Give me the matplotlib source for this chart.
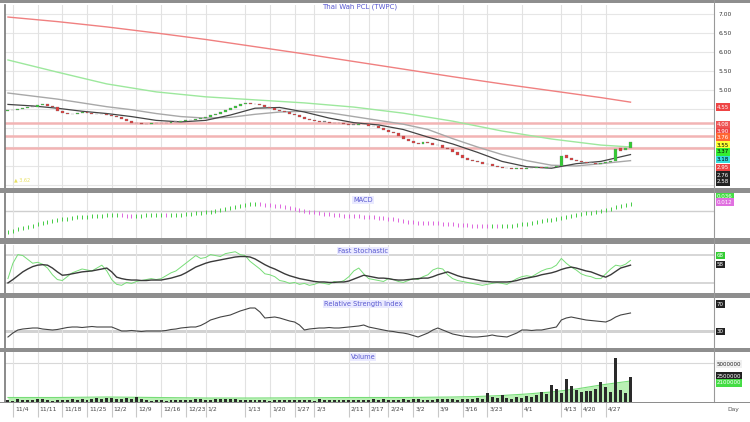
import numpy as np
import matplotlib.pyplot as plt
from matplotlib.patches import Rectangle
from matplotlib.transforms import ScaledTranslation, blended_transform_factory

title = "Thai Wah PCL (TWPC)"

# x axis: trading day index, weekly labels
tick_pos = [1, 6, 11, 16, 21, 26, 31, 36, 40, 48, 53, 58, 62, 69, 73, 77, 82, 87, 92, 97, 104, 112, 116, 121]
tick_labels = ["11/4", "11/11", "11/18", "11/25", "12/2", "12/9", "12/16", "12/23", "1/2", "1/13", "1/20",
               "1/27", "2/3", "2/11", "2/17", "2/24", "3/2", "3/9", "3/16", "3/23", "4/1", "4/13", "4/20", "4/27"]

opens = [4.44, 4.46, 4.48, 4.50, 4.52, 4.56, 4.56, 4.60, 4.62, 4.58,
         4.54, 4.44, 4.40, 4.38, 4.36, 4.40, 4.42, 4.40, 4.38, 4.36,
         4.38, 4.34, 4.32, 4.28, 4.24, 4.18, 4.14, 4.12, 4.10, 4.10,
         4.12, 4.14, 4.12, 4.14, 4.16, 4.16, 4.18, 4.20, 4.22, 4.24,
         4.26, 4.30, 4.34, 4.38, 4.42, 4.46, 4.52, 4.58, 4.62, 4.66,
         4.64, 4.62, 4.60, 4.56, 4.52, 4.48, 4.44, 4.42, 4.38, 4.34,
         4.30, 4.24, 4.20, 4.18, 4.16, 4.16, 4.14, 4.12, 4.12, 4.10,
         4.08, 4.08, 4.10, 4.10, 4.06, 4.04, 4.00, 3.94, 3.90, 3.86,
         3.80, 3.70, 3.66, 3.60, 3.58, 3.64, 3.60, 3.56, 3.54, 3.48,
         3.44, 3.38, 3.30, 3.20, 3.16, 3.12, 3.10, 3.06, 3.04, 3.00,
         2.98, 2.94, 2.94, 2.92, 2.94, 2.92, 2.94, 2.94, 2.96, 2.94,
         2.96, 2.98, 3.00, 3.30, 3.20, 3.16, 3.12, 3.10, 3.08, 3.08,
         3.06, 3.08, 3.10, 3.14, 3.48, 3.42, 3.46]
closes = [4.46, 4.48, 4.50, 4.52, 4.54, 4.56, 4.60, 4.62, 4.58, 4.54,
          4.44, 4.40, 4.38, 4.36, 4.40, 4.42, 4.40, 4.38, 4.36, 4.38,
          4.34, 4.32, 4.28, 4.24, 4.18, 4.14, 4.12, 4.10, 4.10, 4.12,
          4.14, 4.12, 4.14, 4.16, 4.16, 4.18, 4.20, 4.22, 4.24, 4.26,
          4.30, 4.34, 4.38, 4.42, 4.46, 4.52, 4.58, 4.62, 4.66, 4.64,
          4.62, 4.60, 4.56, 4.52, 4.48, 4.44, 4.42, 4.38, 4.34, 4.30,
          4.24, 4.20, 4.18, 4.16, 4.16, 4.14, 4.12, 4.12, 4.10, 4.08,
          4.08, 4.10, 4.10, 4.06, 4.04, 4.00, 3.94, 3.90, 3.86, 3.80,
          3.70, 3.66, 3.60, 3.58, 3.64, 3.60, 3.56, 3.54, 3.48, 3.44,
          3.38, 3.30, 3.20, 3.16, 3.12, 3.10, 3.06, 3.04, 3.00, 2.98,
          2.94, 2.94, 2.92, 2.94, 2.92, 2.94, 2.94, 2.96, 2.94, 2.96,
          2.98, 3.00, 3.26, 3.20, 3.16, 3.12, 3.10, 3.08, 3.08, 3.06,
          3.08, 3.10, 3.14, 3.44, 3.40, 3.46, 3.62]

# moving averages (sparse points)
ma_idx = [0, 10, 20, 30, 40, 50, 60, 70, 80, 90, 100, 110, 120, 126]
ma_red = [6.92, 6.80, 6.66, 6.50, 6.33, 6.14, 5.95, 5.75, 5.55, 5.35, 5.16, 4.98, 4.80, 4.68]
ma_green = [5.79, 5.47, 5.16, 4.95, 4.82, 4.74, 4.66, 4.55, 4.39, 4.18, 3.92, 3.71, 3.55, 3.50]
short_idx = [0, 5, 10, 15, 20, 25, 30, 35, 40, 45, 50, 55, 60, 65, 70, 75, 80, 85, 90, 95, 100, 105, 110,
             115, 120, 126]
ma_fast = [4.62, 4.58, 4.52, 4.44, 4.38, 4.30, 4.20, 4.16, 4.20, 4.34, 4.52, 4.54, 4.42, 4.26, 4.14, 4.08,
           3.96, 3.76, 3.58, 3.36, 3.12, 2.98, 2.94, 3.06, 3.12, 3.30]
ma_slow = [4.92, 4.84, 4.76, 4.66, 4.56, 4.48, 4.38, 4.30, 4.26, 4.28, 4.36, 4.42, 4.44, 4.40, 4.30, 4.20,
           4.10, 3.96, 3.72, 3.50, 3.30, 3.14, 3.02, 3.00, 3.06, 3.14]
levels = [4.13, 3.79, 3.47]

value_tags = [4.55, 4.08, 3.90, 3.76, 3.55, 3.37, 3.18, 2.95, 2.76, 2.58]
tag_colors = ['#ee4444', '#ee5555', '#ee4444', '#ff6633', '#ffff33', '#33ee33', '#33dddd', '#ee4444',
              '#222222', '#222222']

macd = [-0.105, -0.098, -0.092, -0.086, -0.080, -0.074, -0.066, -0.060, -0.054, -0.050,
        -0.046, -0.042, -0.038, -0.035, -0.032, -0.030, -0.028, -0.026, -0.025, -0.024,
        -0.022, -0.021, -0.021, -0.022, -0.023, -0.024, -0.024, -0.023, -0.022, -0.021,
        -0.020, -0.020, -0.021, -0.021, -0.020, -0.019, -0.017, -0.015, -0.012, -0.010,
        -0.007, -0.004, -0.001, 0.003, 0.008, 0.013, 0.018, 0.024, 0.029, 0.033,
        0.035, 0.034, 0.032, 0.030, 0.027, 0.024, 0.020, 0.016, 0.011, 0.006,
        0.001, -0.003, -0.007, -0.011, -0.014, -0.017, -0.019, -0.021, -0.023, -0.025,
        -0.026, -0.027, -0.028, -0.030, -0.031, -0.033, -0.036, -0.039, -0.042, -0.046,
        -0.050, -0.053, -0.056, -0.058, -0.059, -0.060, -0.061, -0.062, -0.063, -0.065,
        -0.066, -0.068, -0.070, -0.072, -0.073, -0.074, -0.075, -0.076, -0.076, -0.077,
        -0.077, -0.076, -0.074, -0.071, -0.067, -0.063, -0.059, -0.055, -0.051, -0.047,
        -0.043, -0.039, -0.033, -0.028, -0.024, -0.020, -0.016, -0.012, -0.008, -0.004,
        -0.001, 0.005, 0.011, 0.018, 0.024, 0.030, 0.036]

stoch_slow = [21, 28, 36, 44, 50, 55, 58, 59, 58, 52,
              44, 37, 38, 40, 42, 44, 45, 46, 48, 50,
              52, 44, 33, 30, 28, 27, 27, 26, 26, 27,
              27, 27, 29, 31, 34, 37, 42, 48, 54, 58,
              62, 65, 67, 69, 71, 73, 75, 76, 76, 75,
              71, 65, 59, 54, 50, 45, 40, 36, 33, 30,
              28, 26, 24, 23, 23, 22, 22, 23, 23, 25,
              29, 33, 37, 35, 33, 31, 31, 30, 28, 27,
              27, 28, 29, 30, 31, 31, 34, 38, 41, 44,
              40, 36, 33, 31, 29, 27, 25, 24, 23, 23,
              23, 23, 24, 26, 29, 31, 33, 35, 38, 40,
              42, 45, 49, 52, 54, 52, 49, 46, 44, 40,
              36, 33, 38, 45, 52, 55, 58]
stoch_fast = [30, 62, 80, 78, 70, 62, 64, 60, 52, 38,
              28, 26, 34, 42, 46, 50, 48, 46, 52, 58,
              46, 28, 18, 16, 22, 20, 24, 26, 28, 30,
              28, 30, 36, 42, 46, 54, 62, 70, 78, 72,
              74, 80, 78, 76, 82, 84, 86, 80, 78, 66,
              58, 50, 40, 38, 34, 26, 24, 20, 22, 18,
              20, 16, 18, 22, 20, 18, 24, 22, 26, 34,
              46, 52, 40, 30, 28, 26, 24, 30, 28, 24,
              22, 26, 30, 28, 34, 38, 48, 52, 50, 38,
              30, 26, 24, 22, 20, 18, 16, 18, 20, 22,
              20, 18, 24, 30, 34, 36, 34, 40, 46, 50,
              52, 58, 72, 62, 54, 48, 40, 36, 34, 30,
              30, 40, 50, 58, 56, 60, 68]

rsi = [22, 30, 36, 38, 39, 40, 40, 38, 37, 36,
       37, 39, 41, 42, 42, 41, 42, 43, 42, 42,
       42, 42, 38, 34, 34, 35, 34, 33, 34, 34,
       34, 34, 35, 37, 38, 40, 41, 42, 42, 45,
       50, 56, 59, 62, 64, 66, 70, 74, 77, 80,
       80, 72, 60, 61, 62, 60, 57, 54, 52, 46,
       36, 38, 39, 40, 40, 41, 40, 40, 41, 42,
       43, 44, 46, 42, 40, 38, 36, 34, 33, 31,
       30, 28, 25, 22, 26, 30, 36, 40, 36, 32,
       28, 26, 24, 23, 22, 22, 23, 24, 26, 24,
       23, 22, 26, 30, 36, 36, 35, 36, 36, 38,
       40, 42, 56, 60, 62, 60, 58, 56, 55, 54,
       53, 52, 56, 62, 66, 68, 70]

# volume in thousand shares
volume = [200, 150, 300, 250, 180, 220, 350, 300, 200, 150,
          250, 200, 180, 300, 220, 260, 200, 350, 400, 300,
          380, 420, 350, 300, 450, 260, 500, 300, 200, 150,
          180, 200, 150, 220, 250, 200, 180, 230, 260, 300,
          250, 220, 300, 280, 350, 300, 260, 240, 200, 220,
          180, 160, 200, 150, 220, 250, 180, 200, 160, 240,
          200, 180, 150, 260, 220, 180, 200, 250, 210, 190,
          230, 200, 160, 180, 260, 220, 300, 250, 200, 240,
          280, 220, 260, 300, 250, 230, 200, 280, 300, 260,
          300, 250, 350, 300, 280, 400, 350, 900, 500, 400,
          700, 450, 350, 500, 400, 600, 500, 700, 1000, 800,
          1700, 1300, 900, 2300, 1600, 1200, 1000, 1100, 1100, 1300,
          2000, 1500, 1000, 4400, 1200, 900, 2500]
vol_ma_idx = [0, 10, 20, 30, 40, 50, 60, 70, 80, 90, 95, 100, 105, 110, 115, 120, 126]
vol_ma = [450, 450, 500, 450, 400, 400, 420, 450, 450, 500, 550, 650, 800, 1000, 1300, 1700, 2100]

W, H = 750, 422
fig = plt.figure(figsize=(7.5, 4.22), dpi=100)
fig.patch.set_facecolor('white')

LEFT, RIGHT = 5, 714


def panel(top, bottom):
    ax = fig.add_axes([LEFT / W, 1 - bottom / H, (RIGHT - LEFT) / W, (bottom - top) / H])
    ax.set_xlim(-0.6, 142.9)
    ax.set_xticks(tick_pos)
    ax.grid(axis='x', color='#e2e2e2', lw=0.8)
    ax.set_axisbelow(True)
    for s in ['top', 'bottom']:
        ax.spines[s].set_visible(False)
    ax.spines['left'].set_color('#777777')
    ax.spines['left'].set_linewidth(1.2)
    ax.spines['right'].set_color('#999999')
    ax.spines['right'].set_linewidth(0.8)
    ax.tick_params(axis='x', length=0, labelbottom=False)
    ax.yaxis.tick_right()
    ax.tick_params(axis='y', length=0, labelsize=4.3, labelcolor='#333333', pad=3)
    return ax


def panel_title(ax, text, y):
    ax.text(0.505, y, text, transform=ax.transAxes, ha='center', va='center', fontsize=4.8,
            color='#5858d0', bbox=dict(boxstyle='square,pad=0.15', fc='#eaeaff', ec='none'))


def tag(ax, y, text, fc, tc='white'):
    tr = blended_transform_factory(ax.transAxes, ax.transData)
    ax.text(1.004, y, text, transform=tr, ha='left', va='center', fontsize=4, color=tc, clip_on=False,
            bbox=dict(boxstyle='square,pad=0.2', fc=fc, ec='none'))


x = np.arange(len(closes))
o = np.array(opens)
c = np.array(closes)

# ---- main price panel
ax = panel(5, 188)
ax.set_ylim(2.42, 7.237)
ax.set_yticks([5.0, 5.5, 6.0, 6.5, 7.0])
ax.set_yticklabels(['5.00', '5.50', '6.00', '6.50', '7.00'])
for lv in np.arange(2.5, 7.01, 0.5):
    ax.axhline(lv, color='#e6e6e6', lw=0.8, zorder=0)
for lv in levels:
    ax.axhline(lv, color='#f2b4b4', lw=1.8, zorder=1)
ax.plot(ma_idx, ma_red, color='#f08080', lw=1.0, zorder=2)
ax.plot(ma_idx, ma_green, color='#9de89d', lw=1.0, zorder=2)
ax.plot(short_idx, ma_slow, color='#a8a8a8', lw=1.0, zorder=2)
ax.plot(short_idx, ma_fast, color='#444444', lw=0.9, zorder=2)
body = np.where(np.abs(c - o) < 0.015, 0.015, c - o)
col = np.where(c > o, '#33cc33', np.where(c < o, '#e03a3a', '#888888'))
ax.bar(x, body, bottom=o, width=0.6, color=col, edgecolor='#777777', linewidth=0.2, zorder=3)
ax.text(0.5, 0.988, title, transform=ax.transAxes, ha='center', va='center', fontsize=5,
        color='#5858d0')
ax.text(0.012, 0.03, '\u25b2 3.62', transform=ax.transAxes, fontsize=3.5, color='#e8e060', va='bottom')
for v, fc in zip(value_tags, tag_colors):
    tag(ax, v, f'{v:.2f}', fc, 'black' if fc in ('#ffff33', '#33ee33', '#33dddd') else 'white')

# ---- MACD
ax2 = panel(193, 238)
ax2.set_ylim(-0.135, 0.09)
ax2.set_yticks([])
ax2.axhline(0, color='#cfcfcf', lw=1.0, zorder=0)
m = np.array(macd)
rising = np.concatenate([[True], np.diff(m) >= 0])
ax2.scatter(x[rising], m[rising], marker='|', s=5, color='#44cc44', lw=0.7)
ax2.scatter(x[~rising], m[~rising], marker='|', s=5, color='#dd66dd', lw=0.7)
panel_title(ax2, 'MACD', 0.84)
tag(ax2, 0.075, '0.036', '#44dd44')
tag(ax2, 0.045, '0.012', '#e070e0')

# ---- Fast stochastic
ax3 = panel(245, 293)
ax3.set_ylim(0, 100)
ax3.set_yticks([])
ax3.axhline(80, color='#d0d0d0', lw=1.2, zorder=0)
ax3.axhline(20, color='#d0d0d0', lw=1.2, zorder=0)
ax3.plot(x, stoch_fast, color='#77dd77', lw=0.7)
ax3.plot(x, stoch_slow, color='#3a3a3a', lw=1.0)
panel_title(ax3, 'Fast Stochastic', 0.875)
tag(ax3, 78, '68', '#33cc33')
tag(ax3, 60, '58', '#222222')

# ---- RSI
ax4 = panel(298, 348)
ax4.set_ylim(0, 100)
ax4.set_yticks([])
ax4.axhspan(30, 37, color='#d2d2d2', lw=0, zorder=0)
ax4.plot(x, rsi, color='#444444', lw=0.8)
panel_title(ax4, 'Relative Strength Index', 0.88)
tag(ax4, 88, '70', '#222222')
tag(ax4, 33, '30', '#222222')

# ---- Volume
ax5 = panel(352, 402)
ax5.set_ylim(0, 5000)
ax5.set_yticks([])
ax5.axhline(3900, color='#d8d8d8', lw=0.8, zorder=0)
ax5.fill_between(vol_ma_idx, 0, vol_ma, color='#b9f0b4', lw=0, zorder=1)
ax5.plot(vol_ma_idx, vol_ma, color='#77dd77', lw=0.8, zorder=2)
ax5.bar(x, volume, width=0.6, color='#2a2a2a', zorder=3)
panel_title(ax5, 'Volume', 0.9)
tag(ax5, 3800, '5000000', '#f0f0f0', '#222222')
tag(ax5, 2600, '2500000', '#222222')
tag(ax5, 1900, '2100000', '#44dd44')

# x labels under the volume panel, each to the right of its tick line
ax5.tick_params(axis='x', length=11, width=0.8, color='#c8c8c8', labelbottom=True, labelsize=4.3,
                labelcolor='#444444', pad=-8)
ax5.set_xticklabels(tick_labels)
for lab in ax5.get_xticklabels():
    lab.set_horizontalalignment('left')
    lab.set_transform(lab.get_transform() + ScaledTranslation(2 / 100, 0, fig.dpi_scale_trans))
fig.text(733 / W, 1 - 410 / H, 'Day', fontsize=4.3, color='#555555', ha='center', va='center')

# grey separators between panels
for top, bot in [(0, 3), (188, 193), (238, 244), (293, 298), (348, 352), (402, 403)]:
    fig.add_artist(Rectangle((0, 1 - bot / H), 1, (bot - top) / H, transform=fig.transFigure,
                             color='#8e8e8e', lw=0))
fig.add_artist(Rectangle((RIGHT / W, 1 - 402 / H), 1 / W, 402 / H, transform=fig.transFigure,
                         color='#999999', lw=0))

fig.savefig('out.png', dpi=100, facecolor='white')
